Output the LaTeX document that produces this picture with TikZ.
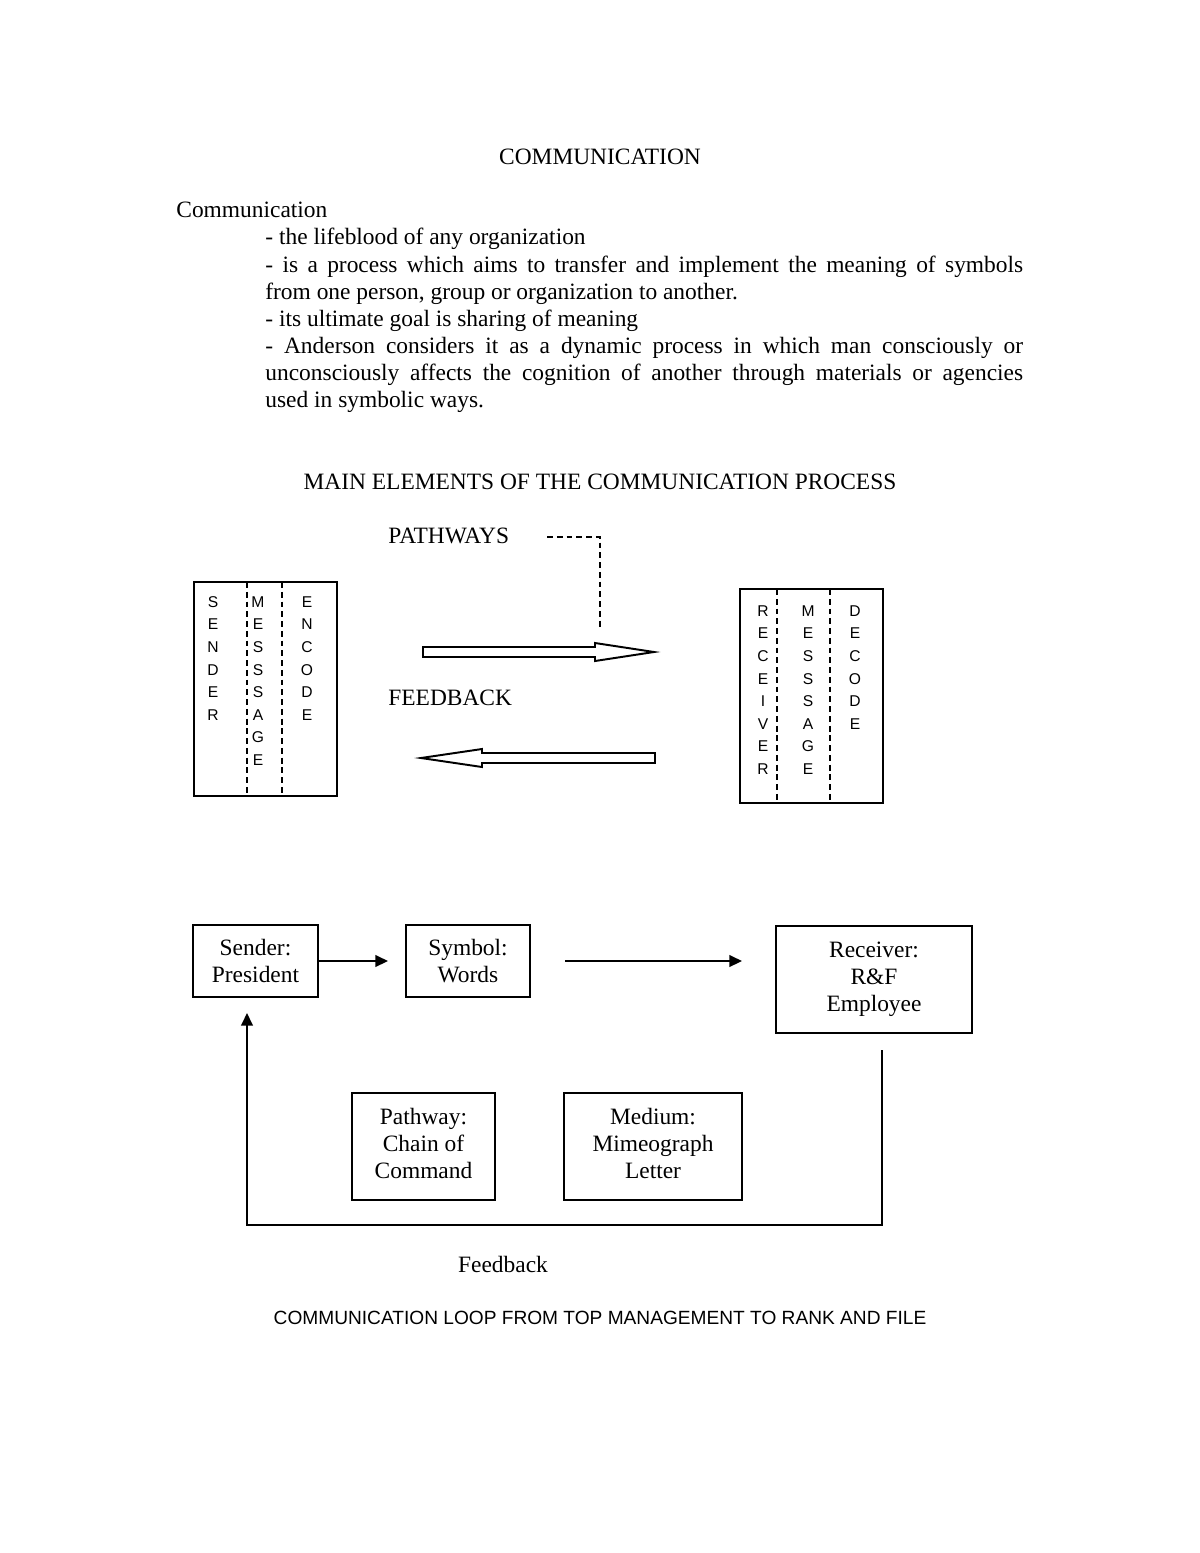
\documentclass[tikz,border=0pt]{standalone}
\usepackage{fontspec}
\setmainfont{Liberation Serif}
\setsansfont{Liberation Sans}
\usetikzlibrary{arrows.meta}

\begin{document}
\begin{tikzpicture}[x=0.018cm, y=-0.018cm, font=\fontsize{12}{13.9}\selectfont,
		txt/.style={anchor=base, inner sep=0pt},
		box/.style={draw, line width=1pt, align=center, inner sep=0pt},
		letter/.style={inner sep=0pt, font=\sffamily\fontsize{8}{9}\selectfont},
		divider/.style={line width=0.9pt, dash pattern=on 3pt off 2pt},
		hollow/.style={draw, line width=1pt},
		link/.style={line width=1pt, -{Triangle[length=6.5pt,width=6pt]}}]
		\useasboundingbox (0,0) rectangle (1200,1553);
		% heading and definition
		\node[txt] (title) at (600,164) {COMMUNICATION};
		\node[txt, anchor=base west] (comm) at (176,217) {Communication};
		\node[anchor=north west, inner sep=0pt, text width=13.644cm, align=justify] (defn) at (265,228) {%
			- the lifeblood of any organization\\
			- is a process which aims to transfer and implement the meaning of symbols\linebreak
			from one person, group or organization to another.\\
			- its ultimate goal is sharing of meaning\\
			- Anderson considers it as a dynamic process in which man consciously or\linebreak
			unconsciously affects the cognition of another through materials or agencies\linebreak
			used in symbolic ways.};
		\node[txt] (main) at (600,489) {MAIN ELEMENTS OF THE COMMUNICATION PROCESS};
		% elements
		\node[txt, anchor=base west] (pw) at (388,543) {PATHWAYS};
		\node[txt, anchor=base west] (fb) at (388,705) {FEEDBACK};
		\coordinate (pwstart) at (547,537);
		\coordinate (pwend) at (600,627);
		\draw[divider] (pwstart) -| (pwend);
		\node[draw, line width=1pt, minimum width=2.574cm, minimum height=3.852cm] (sbox) at (265.5,689) {};
		\node[draw, line width=1pt, minimum width=2.574cm, minimum height=3.852cm] (rbox) at (811.5,696) {};
		\draw[divider] (247,582) -- (247,796);
		\draw[divider] (282,582) -- (282,796);
		\draw[divider] (777,589) -- (777,803);
		\draw[divider] (830,589) -- (830,803);
		\foreach \ch [count=\i from 0] in {S,E,N,D,E,R}
			\node[letter] (sa\i) at (213,602+22.6*\i) {\ch};
		\foreach \ch [count=\i from 0] in {M,E,S,S,S,A,G,E}
			\node[letter] (sb\i) at (258,602+22.6*\i) {\ch};
		\foreach \ch [count=\i from 0] in {E,N,C,O,D,E}
			\node[letter] (sc\i) at (307,602+22.6*\i) {\ch};
		\foreach \ch [count=\i from 0] in {R,E,C,E,I,V,E,R}
			\node[letter] (ra\i) at (763,611+22.6*\i) {\ch};
		\foreach \ch [count=\i from 0] in {M,E,S,S,S,A,G,E}
			\node[letter] (rb\i) at (808,611+22.6*\i) {\ch};
		\foreach \ch [count=\i from 0] in {D,E,C,O,D,E}
			\node[letter] (rc\i) at (855,611+22.6*\i) {\ch};
		\draw[hollow] (423,647) -- (595,647) -- (595,643) -- (654,652) -- (595,661) -- (595,657) -- (423,657) -- cycle;
		\draw[hollow] (655,753) -- (482,753) -- (482,749) -- (421,758) -- (482,767) -- (482,763) -- (655,763) -- cycle;
		% loop
		\node[box, minimum width=2.25cm, minimum height=1.296cm] (sender) at (255.5,961) {Sender:\\President};
		\node[box, minimum width=2.232cm, minimum height=1.296cm] (symbol) at (468,961) {Symbol:\\Words};
		\node[box, minimum width=3.528cm, minimum height=1.926cm] (receiver) at (874,979.5) {Receiver:\\R\&F\\Employee};
		\node[box, minimum width=2.574cm, minimum height=1.926cm, text depth=0.1cm] (pathway) at (423.5,1146.5) {Pathway:\\Chain of\\Command};
		\node[box, minimum width=3.204cm, minimum height=1.926cm, text depth=0.1cm] (medium) at (653,1146.5) {Medium:\\Mimeograph\\Letter};
		\coordinate (symend) at (388,961);
		\coordinate (recstart) at (565,961);
		\coordinate (recend) at (742,961);
		\coordinate (fbstart) at (882,1050);
		\coordinate (fbcorner) at (882,1225);
		\coordinate (fbend) at (247,1013);
		\draw[link] (sender.east) -- (symend);
		\draw[link] (recstart) -- (recend);
		\draw[link] (fbstart) -- (fbcorner) -| (fbend);
		\node[txt] (fblabel) at (503,1272) {Feedback};
		\node[txt, font=\sffamily\fontsize{9.8}{11}\selectfont] (caption) at (600,1324) {COMMUNICATION LOOP FROM TOP MANAGEMENT TO RANK AND FILE};
	\end{tikzpicture}
\end{document}
